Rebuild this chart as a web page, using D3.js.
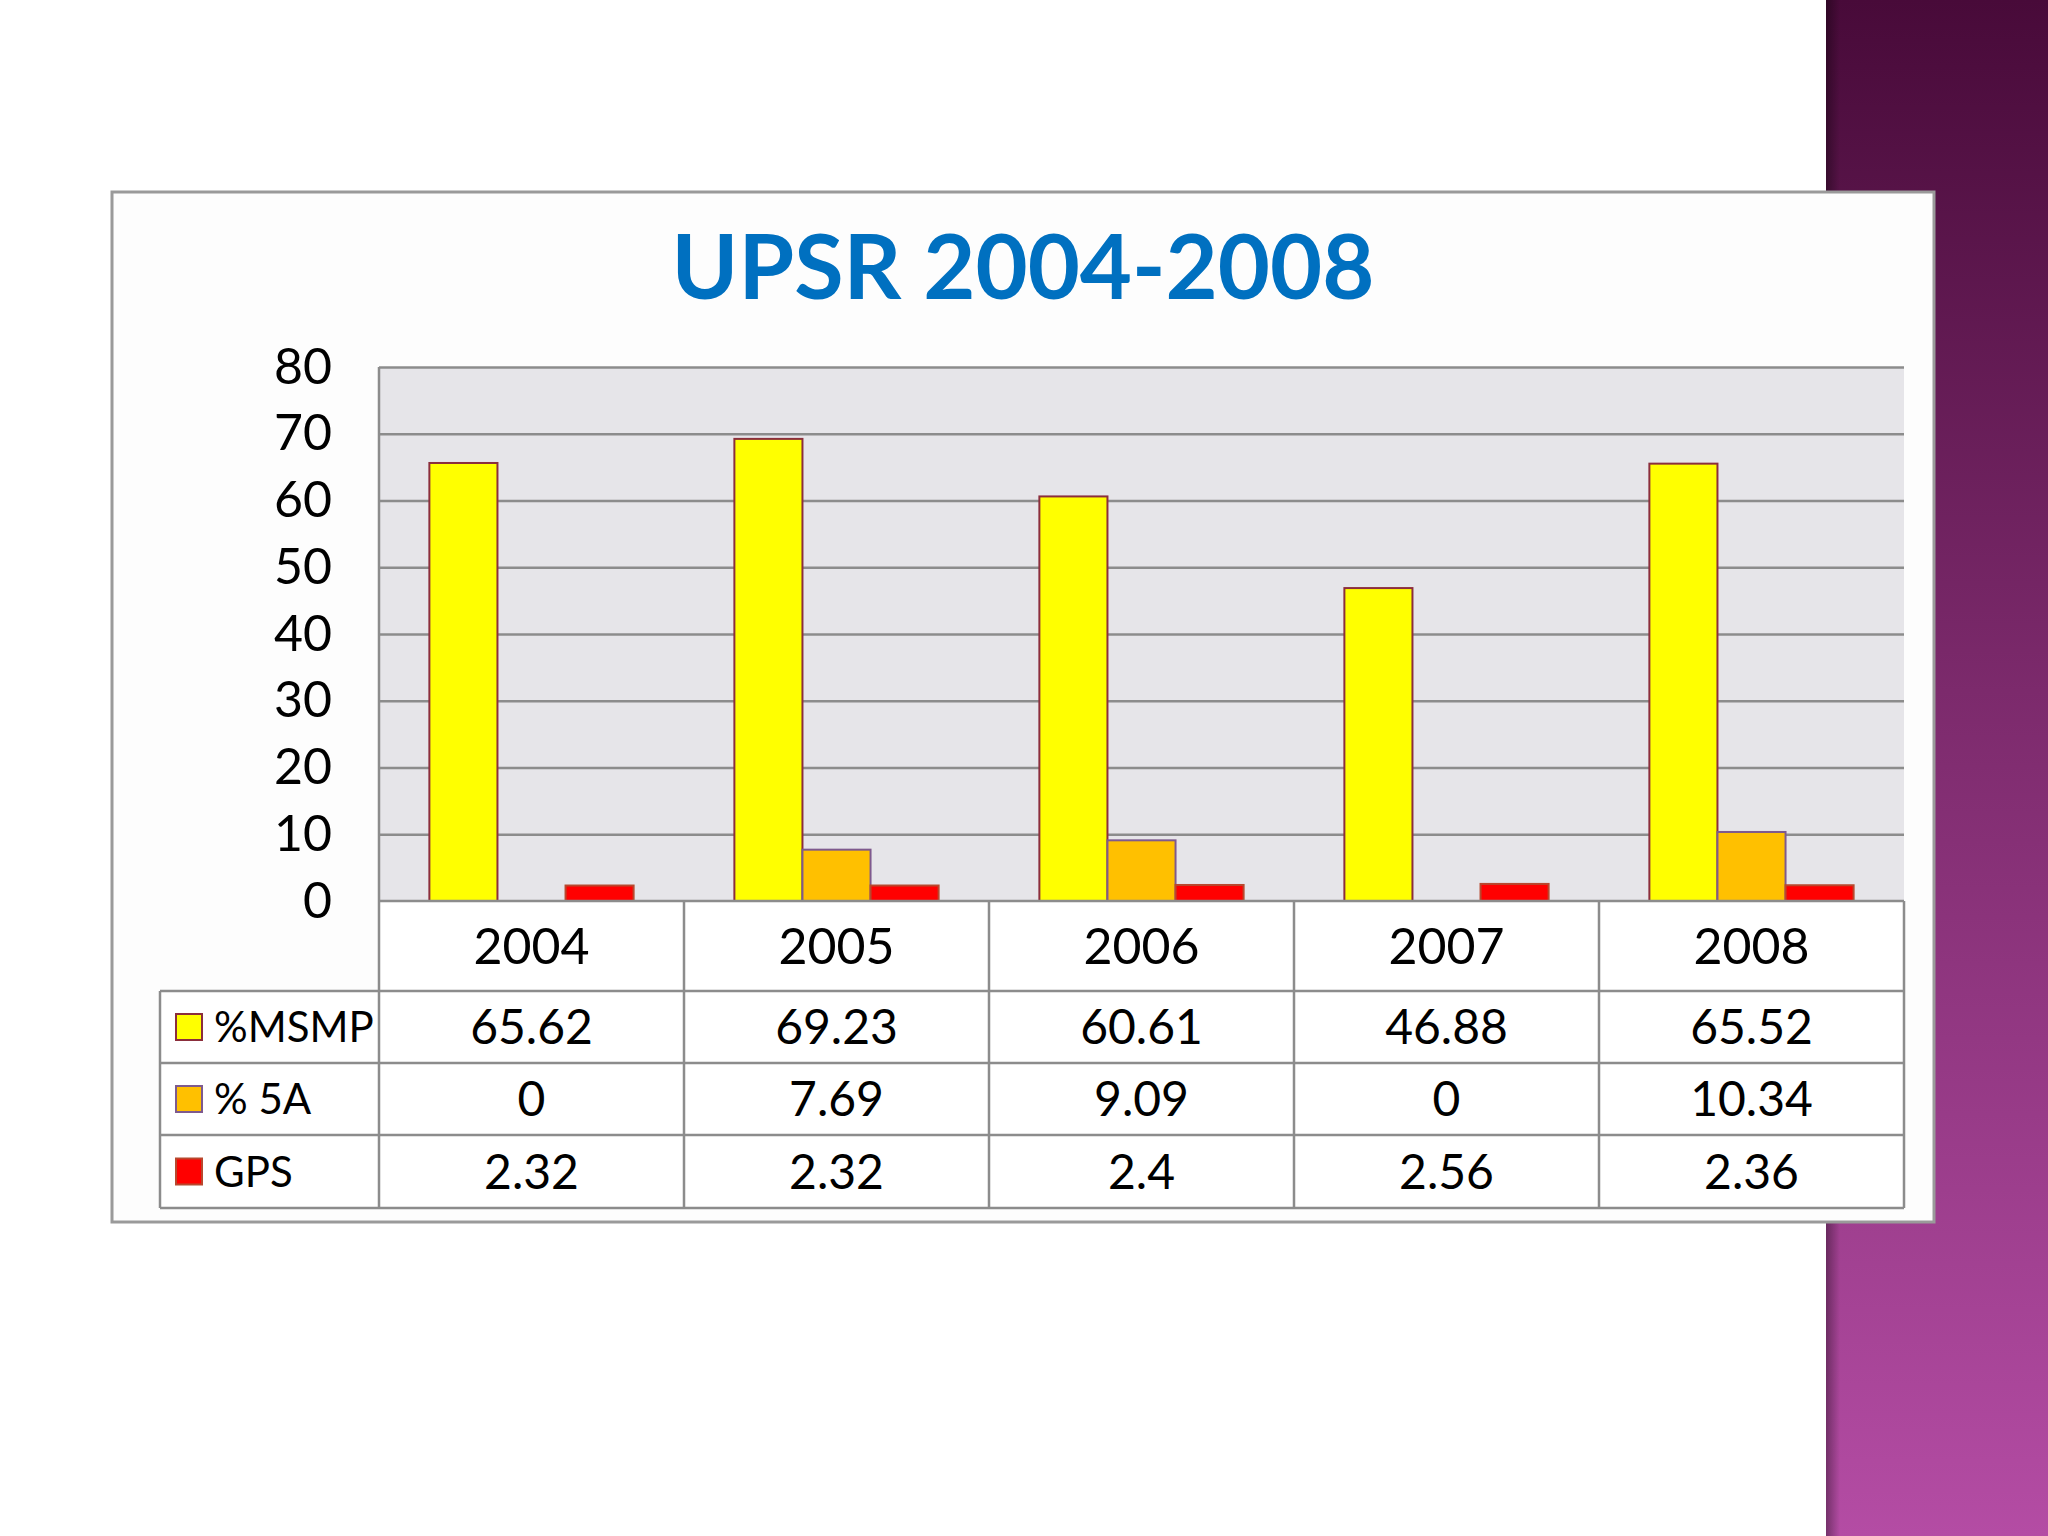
<!DOCTYPE html>
<html>
<head>
<meta charset="utf-8">
<script src="https://cdn.jsdelivr.net/npm/d3@7"></script>
<style>
  body { margin: 0; background: #fff; }
  text { font-family: Lato, "Open Sans", sans-serif; }
</style>
</head>
<body>
<div id="svg-container"></div>
<script>
// chart data
var years = ["2004", "2005", "2006", "2007", "2008"];
var seriesNames = ["%MSMP", "% 5A", "GPS"];
var msmp = [65.62, 69.23, 60.61, 46.88, 65.52];
var fiveA = [0, 7.69, 9.09, 0, 10.34];
var gps = [2.32, 2.32, 2.4, 2.56, 2.36];
var yTicks = [0, 10, 20, 30, 40, 50, 60, 70, 80];
var fmtLabels = [
	["65.62", "69.23", "60.61", "46.88", "65.52"],
	["0", "7.69", "9.09", "0", "10.34"],
	["2.32", "2.32", "2.4", "2.56", "2.36"]
];

(function(){
var seriesValues = [msmp, fiveA, gps];
var fills = ["#FFFF00", "#FFC000", "#FF0000"];
var strokes = ["#8B2E3C", "#7E5A8E", "#B8482E"];

var W = 2048, H = 1536;
var svg = d3.select("#svg-container").append("svg")
	.attr("width", W).attr("height", H);

// purple side strip
var defs = svg.append("defs");
var g1 = defs.append("linearGradient").attr("id", "purp")
	.attr("x1", 0).attr("y1", 0).attr("x2", 0).attr("y2", 1);
g1.append("stop").attr("offset", "0%").attr("stop-color", "#480a39");
g1.append("stop").attr("offset", "45%").attr("stop-color", "#7c2a6c");
g1.append("stop").attr("offset", "100%").attr("stop-color", "#b44ca4");
var g2 = defs.append("linearGradient").attr("id", "shade")
	.attr("x1", 0).attr("y1", 0).attr("x2", 1).attr("y2", 0);
g2.append("stop").attr("offset", "0%").attr("stop-color", "#000").attr("stop-opacity", 0.35);
g2.append("stop").attr("offset", "100%").attr("stop-color", "#000").attr("stop-opacity", 0);

svg.append("rect").attr("x", 1826).attr("y", 0).attr("width", W - 1826).attr("height", H)
	.attr("fill", "url(#purp)");
svg.append("rect").attr("x", 1826).attr("y", 0).attr("width", 14).attr("height", H)
	.attr("fill", "url(#shade)");

// white chart frame
svg.append("rect").attr("x", 112).attr("y", 192).attr("width", 1822).attr("height", 1030)
	.attr("fill", "#fdfdfd").attr("stroke", "#9a9a9a").attr("stroke-width", 3);

svg.append("text").attr("x", 1023).attr("y", 299)
	.attr("text-anchor", "middle")
	.style("font-size", "90px").style("font-weight", "bold").style("fill", "#0070C0")
	.text("UPSR 2004-2008");

// plot
var pLeft = 379, pRight = 1904, pTop = 367, pBase = 901;
var x0 = d3.scaleBand().domain(years).range([pLeft, pRight]).padding(0);
var x1 = d3.scaleBand().domain(seriesNames).range([0, x0.bandwidth()]).paddingInner(0).paddingOuter(0.74);
var y = d3.scaleLinear().domain([0, 80]).range([pBase, pTop]);

svg.append("rect").attr("x", pLeft).attr("y", pTop).attr("width", pRight - pLeft).attr("height", pBase - pTop)
	.attr("fill", "#E6E5E9");

svg.append("g").attr("transform", "translate(" + pLeft + ",0)")
	.call(d3.axisRight(y).tickValues(yTicks).tickSize(pRight - pLeft).tickFormat(""))
	.call(function(g){ g.select(".domain").remove(); })
	.selectAll("line").attr("stroke", "#8c8c8c").attr("stroke-width", 2.5);

svg.append("line").attr("x1", pLeft).attr("x2", pLeft).attr("y1", pTop).attr("y2", pBase)
	.attr("stroke", "#8c8c8c").attr("stroke-width", 2.5);

var yAx = svg.append("g").attr("transform", "translate(332,0)")
	.call(d3.axisLeft(y).tickValues(yTicks).tickSize(0).tickPadding(0))
	.call(function(g){ g.select(".domain").remove(); });
yAx.attr("font-family", null).attr("font-size", null);
yAx.selectAll("text").style("font-size", "50px").style("fill", "#000");

// bars
seriesNames.forEach(function(s, si){
	svg.append("g").selectAll("rect")
		.data(seriesValues[si])
		.enter().append("rect")
		.attr("x", function(d, i){ return x0(years[i]) + x1(s); })
		.attr("width", x1.bandwidth())
		.attr("y", function(d){ return y(d); })
		.attr("height", function(d){ return pBase - y(d); })
		.attr("fill", fills[si])
		.attr("stroke", strokes[si])
		.attr("stroke-width", 2)
		.style("display", function(d){ return d > 0 ? null : "none"; });
});

// data table
var rowY = [901, 991, 1063, 1135, 1208];
var tLeft = 160;
var gridC = "#8c8c8c";
var tbl = svg.append("g");
tbl.append("rect").attr("x", pLeft).attr("y", rowY[0]).attr("width", pRight - pLeft).attr("height", rowY[4] - rowY[0])
	.attr("fill", "#fff");
tbl.append("rect").attr("x", tLeft).attr("y", rowY[1]).attr("width", pLeft - tLeft).attr("height", rowY[4] - rowY[1])
	.attr("fill", "#fff");

// horizontal lines
tbl.append("line").attr("x1", pLeft).attr("x2", pRight).attr("y1", rowY[0]).attr("y2", rowY[0]);
[1, 2, 3, 4].forEach(function(r){
	tbl.append("line").attr("x1", tLeft).attr("x2", pRight).attr("y1", rowY[r]).attr("y2", rowY[r]);
});
// vertical lines
tbl.append("line").attr("x1", tLeft).attr("x2", tLeft).attr("y1", rowY[1]).attr("y2", rowY[4]);
years.forEach(function(yr){
	tbl.append("line").attr("x1", x0(yr)).attr("x2", x0(yr)).attr("y1", rowY[0]).attr("y2", rowY[4]);
});
tbl.append("line").attr("x1", pRight).attr("x2", pRight).attr("y1", rowY[0]).attr("y2", rowY[4]);
tbl.selectAll("line").attr("stroke", gridC).attr("stroke-width", 2.5);

// category labels
tbl.selectAll("text.cat").data(years).enter().append("text")
	.attr("class", "cat")
	.attr("x", function(d){ return x0(d) + x0.bandwidth() / 2; })
	.attr("y", (rowY[0] + rowY[1]) / 2)
	.attr("dy", "0.36em")
	.attr("text-anchor", "middle")
	.style("font-size", "50px")
	.text(function(d){ return d; });

// value rows with legend keys
seriesNames.forEach(function(s, si){
	var cy = (rowY[si + 1] + rowY[si + 2]) / 2;
	tbl.append("rect").attr("x", 176).attr("y", cy - 13).attr("width", 26).attr("height", 26)
		.attr("fill", fills[si]).attr("stroke", strokes[si]).attr("stroke-width", 2);
	tbl.append("text").attr("x", 214).attr("y", cy).attr("dy", "0.36em")
		.style("font-size", "42px").text(s);
	tbl.selectAll("text.v" + si).data(fmtLabels[si]).enter().append("text")
		.attr("class", "v" + si)
		.attr("x", function(d, i){ return x0(years[i]) + x0.bandwidth() / 2; })
		.attr("y", cy)
		.attr("dy", "0.36em")
		.attr("text-anchor", "middle")
		.style("font-size", "48px")
		.text(function(d){ return d; });
});
})();
</script>
</body>
</html>
